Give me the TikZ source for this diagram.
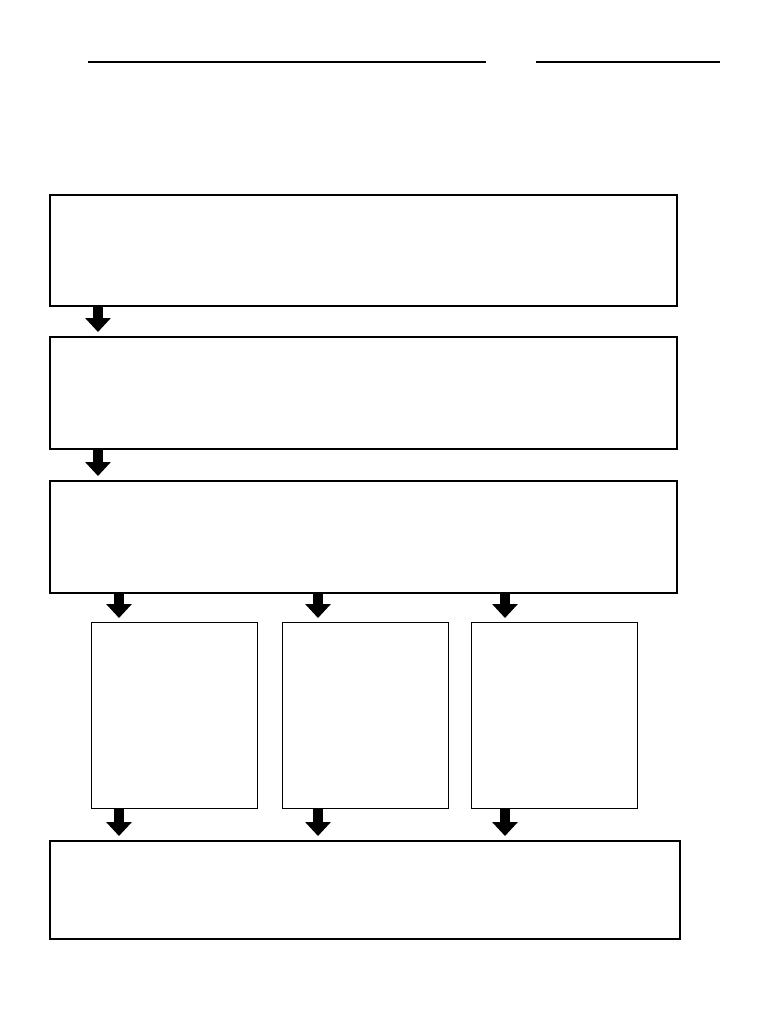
\documentclass[tikz,border=0pt]{standalone}
\usetikzlibrary{arrows.meta,calc}
\newlength\px
\setlength\px{0.75pt}
\tikzset{
  bigbox/.style={draw,line width=1.6\px,rectangle,anchor=north west,inner sep=0pt},
  smallbox/.style={draw,line width=1\px,rectangle,anchor=north west,inner sep=0pt,minimum width=166\px,minimum height=186\px},
  blockarrow/.style={line width=7.5pt,-{Triangle[width=18.75pt,length=10.5pt]},shorten >=3pt}
}
\begin{document}
\begin{tikzpicture}[x=\px,y=-\px]
                    \useasboundingbox (0,0) rectangle (768,1024);
                    \coordinate (l1a) at (88,62);
                    \coordinate (l1b) at (486,62);
                    \coordinate (l2a) at (536,62);
                    \coordinate (l2b) at (720,62);
                    \draw[line width=1.5\px] (l1a) -- (l1b);
                    \draw[line width=1.5\px] (l2a) -- (l2b);
                    \node (s1) at (49,194) [bigbox,minimum width=627\px,minimum height=111\px] {};
                    \node (s2) at (49,336) [bigbox,minimum width=627\px,minimum height=112\px] {};
                    \node (s3) at (49,480) [bigbox,minimum width=627\px,minimum height=112\px] {};
                    \node (c1) at (91,622) [smallbox] {};
                    \node (c2) at (282,622) [smallbox] {};
                    \node (c3) at (471,622) [smallbox] {};
                    \node (s4) at (49,840) [bigbox,minimum width=630\px,minimum height=98\px] {};
                    \draw[blockarrow] ($(s1.south west)+(49,0)$) -- ($(s2.north west)+(49,0)$);
                    \draw[blockarrow] ($(s2.south west)+(49,0)$) -- ($(s3.north west)+(49,0)$);
                    \draw[blockarrow] ($(s3.south west)+(70,0)$) -- ($(c1.north west)+(28,0)$);
                    \draw[blockarrow] ($(s3.south west)+(269,0)$) -- ($(c2.north west)+(36,0)$);
                    \draw[blockarrow] ($(s3.south west)+(456,0)$) -- ($(c3.north west)+(34,0)$);
                    \draw[blockarrow] ($(c1.south west)+(28,0)$) -- ($(s4.north west)+(70,0)$);
                    \draw[blockarrow] ($(c2.south west)+(36,0)$) -- ($(s4.north west)+(269,0)$);
                    \draw[blockarrow] ($(c3.south west)+(34,0)$) -- ($(s4.north west)+(456,0)$);
\end{tikzpicture}
\end{document}
